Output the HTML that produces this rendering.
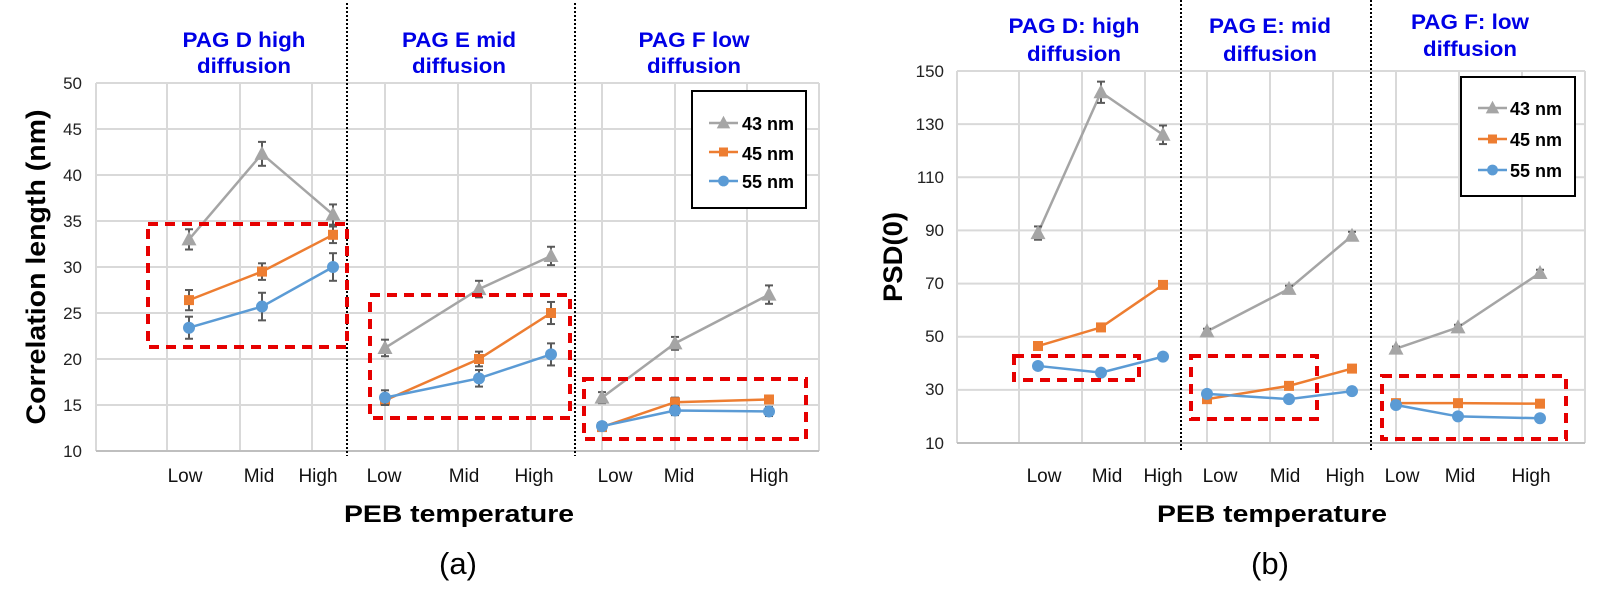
<!DOCTYPE html>
<html><head><meta charset="utf-8">
<style>
html,body{margin:0;padding:0;background:#fff;}
svg{display:block;}
text{font-family:"Liberation Sans",sans-serif;}
.t{fill:#0000e6;font-weight:bold;font-size:21px;text-anchor:middle;}
.tk{fill:#222;font-size:17px;}
.xl{fill:#111;font-size:19px;text-anchor:middle;}
.lg{fill:#000;font-weight:bold;font-size:18px;}
</style></head><body>
<svg id="s" width="1602" height="602" viewBox="0 0 1602 602" xmlns="http://www.w3.org/2000/svg">
<g id="g"></g>
<!-- left titles -->
<text class="t" x="244" y="47" textLength="123" lengthAdjust="spacingAndGlyphs">PAG D high</text>
<text class="t" x="244" y="73" textLength="94" lengthAdjust="spacingAndGlyphs">diffusion</text>
<text class="t" x="459" y="47" textLength="114" lengthAdjust="spacingAndGlyphs">PAG E mid</text>
<text class="t" x="459" y="73" textLength="94" lengthAdjust="spacingAndGlyphs">diffusion</text>
<text class="t" x="694" y="47" textLength="111" lengthAdjust="spacingAndGlyphs">PAG F low</text>
<text class="t" x="694" y="73" textLength="94" lengthAdjust="spacingAndGlyphs">diffusion</text>
<!-- right titles -->
<text class="t" x="1074" y="33" textLength="131" lengthAdjust="spacingAndGlyphs">PAG D: high</text>
<text class="t" x="1074" y="61" textLength="94" lengthAdjust="spacingAndGlyphs">diffusion</text>
<text class="t" x="1270" y="33" textLength="122" lengthAdjust="spacingAndGlyphs">PAG E: mid</text>
<text class="t" x="1270" y="61" textLength="94" lengthAdjust="spacingAndGlyphs">diffusion</text>
<text class="t" x="1470" y="29" textLength="118" lengthAdjust="spacingAndGlyphs">PAG F: low</text>
<text class="t" x="1470" y="56" textLength="94" lengthAdjust="spacingAndGlyphs">diffusion</text>
<!-- left y ticks -->
<g class="tk" text-anchor="end">
<text x="82" y="89">50</text><text x="82" y="135">45</text><text x="82" y="181">40</text>
<text x="82" y="227">35</text><text x="82" y="273">30</text><text x="82" y="319">25</text>
<text x="82" y="365">20</text><text x="82" y="411">15</text><text x="82" y="457">10</text>
</g>
<g class="tk" text-anchor="end">
<text x="944" y="77">150</text><text x="944" y="130">130</text><text x="944" y="183">110</text>
<text x="944" y="236">90</text><text x="944" y="289">70</text><text x="944" y="342">50</text>
<text x="944" y="395">30</text><text x="944" y="449">10</text>
</g>
<!-- x labels -->
<g class="xl">
<text x="185" y="482">Low</text><text x="259" y="482">Mid</text><text x="318" y="482">High</text>
<text x="384" y="482">Low</text><text x="464" y="482">Mid</text><text x="534" y="482">High</text>
<text x="615" y="482">Low</text><text x="679" y="482">Mid</text><text x="769" y="482">High</text>
<text x="1044" y="482">Low</text><text x="1107" y="482">Mid</text><text x="1163" y="482">High</text>
<text x="1220" y="482">Low</text><text x="1285" y="482">Mid</text><text x="1345" y="482">High</text>
<text x="1402" y="482">Low</text><text x="1460" y="482">Mid</text><text x="1531" y="482">High</text>
</g>
<text x="459" y="522" font-size="24" font-weight="bold" text-anchor="middle" textLength="230" lengthAdjust="spacingAndGlyphs">PEB temperature</text>
<text x="1272" y="522" font-size="24" font-weight="bold" text-anchor="middle" textLength="230" lengthAdjust="spacingAndGlyphs">PEB temperature</text>
<text x="458" y="574" font-size="31" text-anchor="middle">(a)</text>
<text x="1270" y="574" font-size="31" text-anchor="middle">(b)</text>
<text transform="translate(45,267) rotate(-90)" font-size="27" font-weight="bold" text-anchor="middle" textLength="315" lengthAdjust="spacingAndGlyphs">Correlation length (nm)</text>
<text transform="translate(902,257) rotate(-90)" font-size="27" font-weight="bold" text-anchor="middle" textLength="90" lengthAdjust="spacingAndGlyphs">PSD(0)</text>
<!-- legends -->
<rect x="692" y="91" width="114" height="117" fill="#fff" stroke="#000" stroke-width="2"/>
<text class="lg" x="742" y="130">43 nm</text><text class="lg" x="742" y="160">45 nm</text><text class="lg" x="742" y="188">55 nm</text>
<rect x="1461" y="77" width="114" height="119" fill="#fff" stroke="#000" stroke-width="2"/>
<text class="lg" x="1510" y="115">43 nm</text><text class="lg" x="1510" y="146">45 nm</text><text class="lg" x="1510" y="177">55 nm</text>
<g id="lgm"></g>
</svg>
<script>
const NS="http://www.w3.org/2000/svg";
const g=document.getElementById('g'), lgm=document.getElementById('lgm');
function el(p,tag,a){const e=document.createElementNS(NS,tag);for(const k in a)e.setAttribute(k,a[k]);p.appendChild(e);return e;}
const C={g:'#a5a5a5',o:'#ed7d31',b:'#5b9bd5'};
function marker(p,t,x,y,c,s){s=s||1;
 if(t==='g') el(p,'polygon',{points:`${x},${y-8*s} ${x-7.5*s},${y+6*s} ${x+7.5*s},${y+6*s}`,fill:c});
 else if(t==='o') el(p,'rect',{x:x-5*s,y:y-5*s,width:10*s,height:10*s,fill:c});
 else el(p,'circle',{cx:x,cy:y,r:6*s,fill:c});}
function chart(o){
 o.ticks.forEach(v=>el(g,'line',{x1:o.x0,x2:o.x1,y1:o.Y(v),y2:o.Y(v),stroke:'#d9d9d9','stroke-width':2}));
 o.vg.concat([o.x0,o.x1]).forEach(x=>el(g,'line',{x1:x,x2:x,y1:o.Y(o.ticks[o.ticks.length-1]),y2:o.Y(o.ticks[0]),stroke:'#d9d9d9','stroke-width':2}));
 el(g,'line',{x1:o.x0,x2:o.x1,y1:o.Y(o.ticks[0]),y2:o.Y(o.ticks[0]),stroke:'#bfbfbf','stroke-width':2});
 o.dots.forEach(x=>el(g,'line',{x1:x,x2:x,y1:o.dt[0],y2:o.dt[1],stroke:'#000','stroke-width':2,'stroke-dasharray':'2,2'}));
 ['g','o','b'].forEach(k=>{
  for(let s=0;s<3;s++){
   const xs=o.px[s], vs=o.d[k].slice(s*3,s*3+3), es=(o.e[k]||[0,0,0,0,0,0,0,0,0]).slice(s*3,s*3+3);
   el(g,'polyline',{points:xs.map((x,i)=>x+','+o.Y(vs[i])).join(' '),fill:'none',stroke:C[k],'stroke-width':2.5});
   xs.forEach((x,i)=>{ if(es[i]>0){const a=o.Y(vs[i]+es[i]),b=o.Y(vs[i]-es[i]);
     el(g,'line',{x1:x,x2:x,y1:a,y2:b,stroke:'#595959','stroke-width':2});
     el(g,'line',{x1:x-4,x2:x+4,y1:a,y2:a,stroke:'#595959','stroke-width':2});
     el(g,'line',{x1:x-4,x2:x+4,y1:b,y2:b,stroke:'#595959','stroke-width':2});}
     marker(g,k,x,o.Y(vs[i]),C[k]);});
  }});
 o.boxes.forEach(b=>el(g,'rect',{x:b[0],y:b[1],width:b[2]-b[0],height:b[3]-b[1],fill:'none',stroke:'#e60000','stroke-width':4,'stroke-dasharray':'10,7'}));
}
chart({x0:96,x1:819,Y:v=>451-(v-10)*9.2,ticks:[10,15,20,25,30,35,40,45,50],
 vg:[167,240,312,385,458,531,602,675,747],dots:[347,575],dt:[3,456],
 px:[[189,262,333],[385,479,551],[602,675,769]],
 d:{g:[33,42.3,35.7,21.2,27.6,31.2,15.8,21.7,27],o:[26.4,29.5,33.5,15.5,20,25,12.6,15.3,15.6],b:[23.4,25.7,30,15.8,17.9,20.5,12.7,14.4,14.3]},
 e:{g:[1.1,1.3,1.1,0.9,0.9,1,0.6,0.7,1],o:[1.1,0.9,0.9,0.5,0.8,1.2,0.3,0.5,0.3],b:[1.2,1.5,1.5,0.8,0.9,1.2,0.3,0.5,0.5]},
 boxes:[[148,224,347,347],[370,295,570,418],[584,379,806,439]]});
chart({x0:957,x1:1585,Y:v=>443-(v-10)*372/140,ticks:[10,30,50,70,90,110,130,150],
 vg:[1019,1082,1145,1207,1270,1333,1396,1459,1522],dots:[1181,1371],dt:[0,450],
 px:[[1038,1101,1163],[1207,1289,1352],[1396,1458,1540]],
 d:{g:[89,142,126,52,68,88,45.5,53.5,74],o:[46.5,53.5,69.5,26.5,31.5,38,25,25,24.8],b:[39,36.5,42.5,28.5,26.5,29.5,24.3,20,19.3]},
 e:{g:[2.5,4,3.5,1,1.2,1.5,0.8,1,1.2]},
 boxes:[[1014,356,1139,380],[1191,356,1317,419],[1382,376,1566,439]]});
[[709,738,123],[1478,1507,108]].forEach(([a,b,y0],j)=>{
 const step=j?31:29;
 ['g','o','b'].forEach((k,i)=>{const y=y0+i*step;
  el(lgm,'line',{x1:a,x2:b,y1:y,y2:y,stroke:C[k],'stroke-width':2.5});
  marker(lgm,k,(a+b)/2,y,C[k],0.9);});
});
</script>
</body></html>
